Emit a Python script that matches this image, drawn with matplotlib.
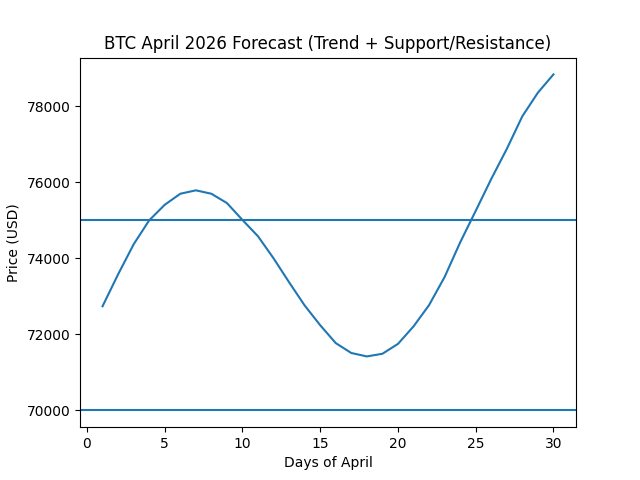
import matplotlib
matplotlib.use("Agg")
import matplotlib.pyplot as plt

days = list(range(1, 31))
prices = [72740, 73580, 74370, 75000, 75410, 75700, 75790, 75700, 75455, 75010,
          74580, 74000, 73370, 72760, 72240, 71770, 71510, 71420, 71490, 71750,
          72210, 72770, 73510, 74420, 75250, 76090, 76880, 77740, 78360, 78840]
resistance = 75000
support = 70000

fig, ax = plt.subplots(figsize=(6.4, 4.8), dpi=100)
ax.plot(days, prices)
ax.axhline(resistance)
ax.axhline(support)
ax.set_title("BTC April 2026 Forecast (Trend + Support/Resistance)")
ax.set_xlabel("Days of April")
ax.set_ylabel("Price (USD)")
fig.savefig("out.png")
